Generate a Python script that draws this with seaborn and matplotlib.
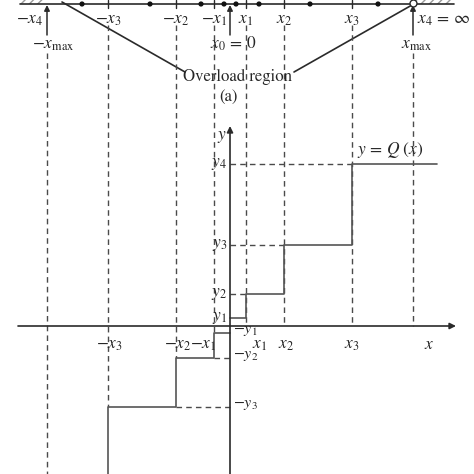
import numpy as np
import pandas as pd
import matplotlib
matplotlib.use("Agg")
import matplotlib.pyplot as plt
import seaborn as sns

sns.set_theme(style="white")
plt.rcParams["mathtext.fontset"] = "stix"
plt.rcParams["font.family"] = ["STIXGeneral", "DejaVu Serif"]

# ---- data (in drawing units) ----
thresholds = [16, 54, 122]          # x1, x2, x3
x_max = 183                          # x_max (overload point)
levels = [8, 32, 81, 162]            # y1..y4
neg_levels = [-7, -32, -81]          # -y1..-y3
dot_positions = [6, 29, 80, 148]     # reconstruction points on the top line
top_labels = [r"$-x_3$", r"$-x_2$", r"$-x_1$", r"$x_1$", r"$x_2$", r"$x_3$"]
y_labels = [r"$y_1$", r"$y_2$", r"$y_3$", r"$y_4$"]
neg_y_labels = [r"$-y_1$", r"$-y_2$", r"$-y_3$"]

TOP = 322          # level of the top number line
LINE = "#2a2a2a"
DASH = "#4a4a4a"
FS = 12.5

fig = plt.figure(figsize=(4.74, 4.74), dpi=100)
ax = fig.add_axes([0, 0, 1, 1])
ax.set_xlim(-230, 244)
ax.set_ylim(-148, 326)
ax.axis("off")

# ---------------- top number line ----------------
ax.plot([-210, 224], [TOP, TOP], color=LINE, lw=1.2)
ax.fill_between([-210, -186], TOP, TOP + 5, facecolor="none",
                edgecolor="#999999", hatch="////", lw=0)
ax.fill_between([x_max + 2, 224], TOP, TOP + 5, facecolor="none",
                edgecolor="#999999", hatch="////", lw=0)
dots = pd.DataFrame({"x": [-d for d in dot_positions[::-1]] + dot_positions,
                     "y": [TOP] * (2 * len(dot_positions))})
sns.scatterplot(data=dots, x="x", y="y", ax=ax, color="#111111", s=14,
                edgecolor="none", zorder=5, legend=False)
ax.plot([x_max], [TOP + 1], marker="o", ms=5, mfc="white", mec=LINE, zorder=6)

all_t = [-t for t in thresholds[::-1]] + thresholds
for t, lab in zip(all_t, top_labels):
    ax.plot([t, t], [TOP - 4, TOP + 4], color=LINE, lw=1.0)
    ax.text(t, TOP - 16, lab, ha="center", va="center", fontsize=FS)
ax.text(-200, TOP - 16, r"$-x_4$", ha="center", va="center", fontsize=FS)
ax.text(x_max + 4, TOP - 16, r"$x_4\,=\,\infty$", ha="left", va="center", fontsize=FS)

# arrows
for xa in (-x_max, 0, x_max):
    ax.annotate("", xy=(xa, TOP - 1), xytext=(xa, TOP - 31),
                arrowprops=dict(arrowstyle="-|>", color=LINE, lw=1.1,
                                mutation_scale=8, shrinkA=0, shrinkB=0))
ax.text(-x_max + 6, TOP - 41, r"$-x_{\rm max}$", ha="center", va="center", fontsize=FS)
ax.text(x_max + 3, TOP - 41, r"$x_{\rm max}$", ha="center", va="center", fontsize=FS)
ax.text(3, TOP - 40, r"$x_0\,=\,0$", ha="center", va="center", fontsize=FS)

# overload region
ax.plot([-168, -45], [324, 254], color=LINE, lw=1.2)
ax.plot([64, x_max - 1], [254, 321], color=LINE, lw=1.2)
ax.text(8, 249, "Overload region", ha="center", va="center", fontsize=FS - 0.5)
ax.text(-2, 229, "(a)", ha="center", va="center", fontsize=FS - 0.5)

# ---------------- dashed vertical guides ----------------
dkw = dict(color=DASH, lw=1.0, dashes=(4, 3))
ax.plot([-x_max, -x_max], [273, -148], **dkw)
ax.plot([x_max, x_max], [273, 0], **dkw)
for t in thresholds:
    ax.plot([t, t], [301, 0], **dkw)
for t, yl in zip(thresholds, neg_levels):
    ax.plot([-t, -t], [301, yl], **dkw)

# dashed horizontal guides
for t, yl in zip(thresholds, levels[1:]):
    ax.plot([0, t], [yl, yl], **dkw)
for t, yl in zip(thresholds[:2], neg_levels[1:]):
    ax.plot([-t, 0], [yl, yl], **dkw)

# ---------------- axes of the lower plot ----------------
ax.annotate("", xy=(226, 0), xytext=(-212, 0),
            arrowprops=dict(arrowstyle="-|>", color=LINE, lw=1.2,
                            mutation_scale=9, shrinkA=0, shrinkB=0))
ax.annotate("", xy=(0, 200), xytext=(0, -148),
            arrowprops=dict(arrowstyle="-|>", color=LINE, lw=1.2,
                            mutation_scale=9, shrinkA=0, shrinkB=0))

# ---------------- quantizer staircase ----------------
pos = pd.DataFrame({"x": [0] + thresholds + [207],
                    "y": levels + [levels[-1]]})
sns.lineplot(data=pos, x="x", y="y", ax=ax, drawstyle="steps-post",
             estimator=None, sort=False, color="#555555", lw=1.2)
neg = pd.DataFrame({"x": [0] + [-t for t in thresholds] + [-thresholds[-1]],
                    "y": neg_levels + [-170, -170]})
sns.lineplot(data=neg, x="x", y="y", ax=ax, drawstyle="steps-post",
             estimator=None, sort=False, color="#555555", lw=1.2)

# ---------------- labels of the lower plot ----------------
ax.text(-8, 189, r"$y$", ha="center", va="center", fontsize=FS)
for yl, lab in zip(levels, y_labels):
    ax.text(-3, yl, lab, ha="right", va="center", fontsize=FS)
for yl, lab in zip(neg_levels, neg_y_labels):
    ax.text(3, yl + 2, lab, ha="left", va="center", fontsize=FS - 1)
ax.text(160, 176, r"$y\,=\,Q\ (x)$", ha="center", va="center", fontsize=FS)

xl_pos = [-121, -52, -27, 30, 56, 122]
for xp, lab in zip(xl_pos, top_labels):
    ax.text(xp, -19, lab, ha="center", va="center", fontsize=FS)
ax.text(199, -19, r"$x$", ha="center", va="center", fontsize=FS)

fig.savefig("out.png", dpi=100)
